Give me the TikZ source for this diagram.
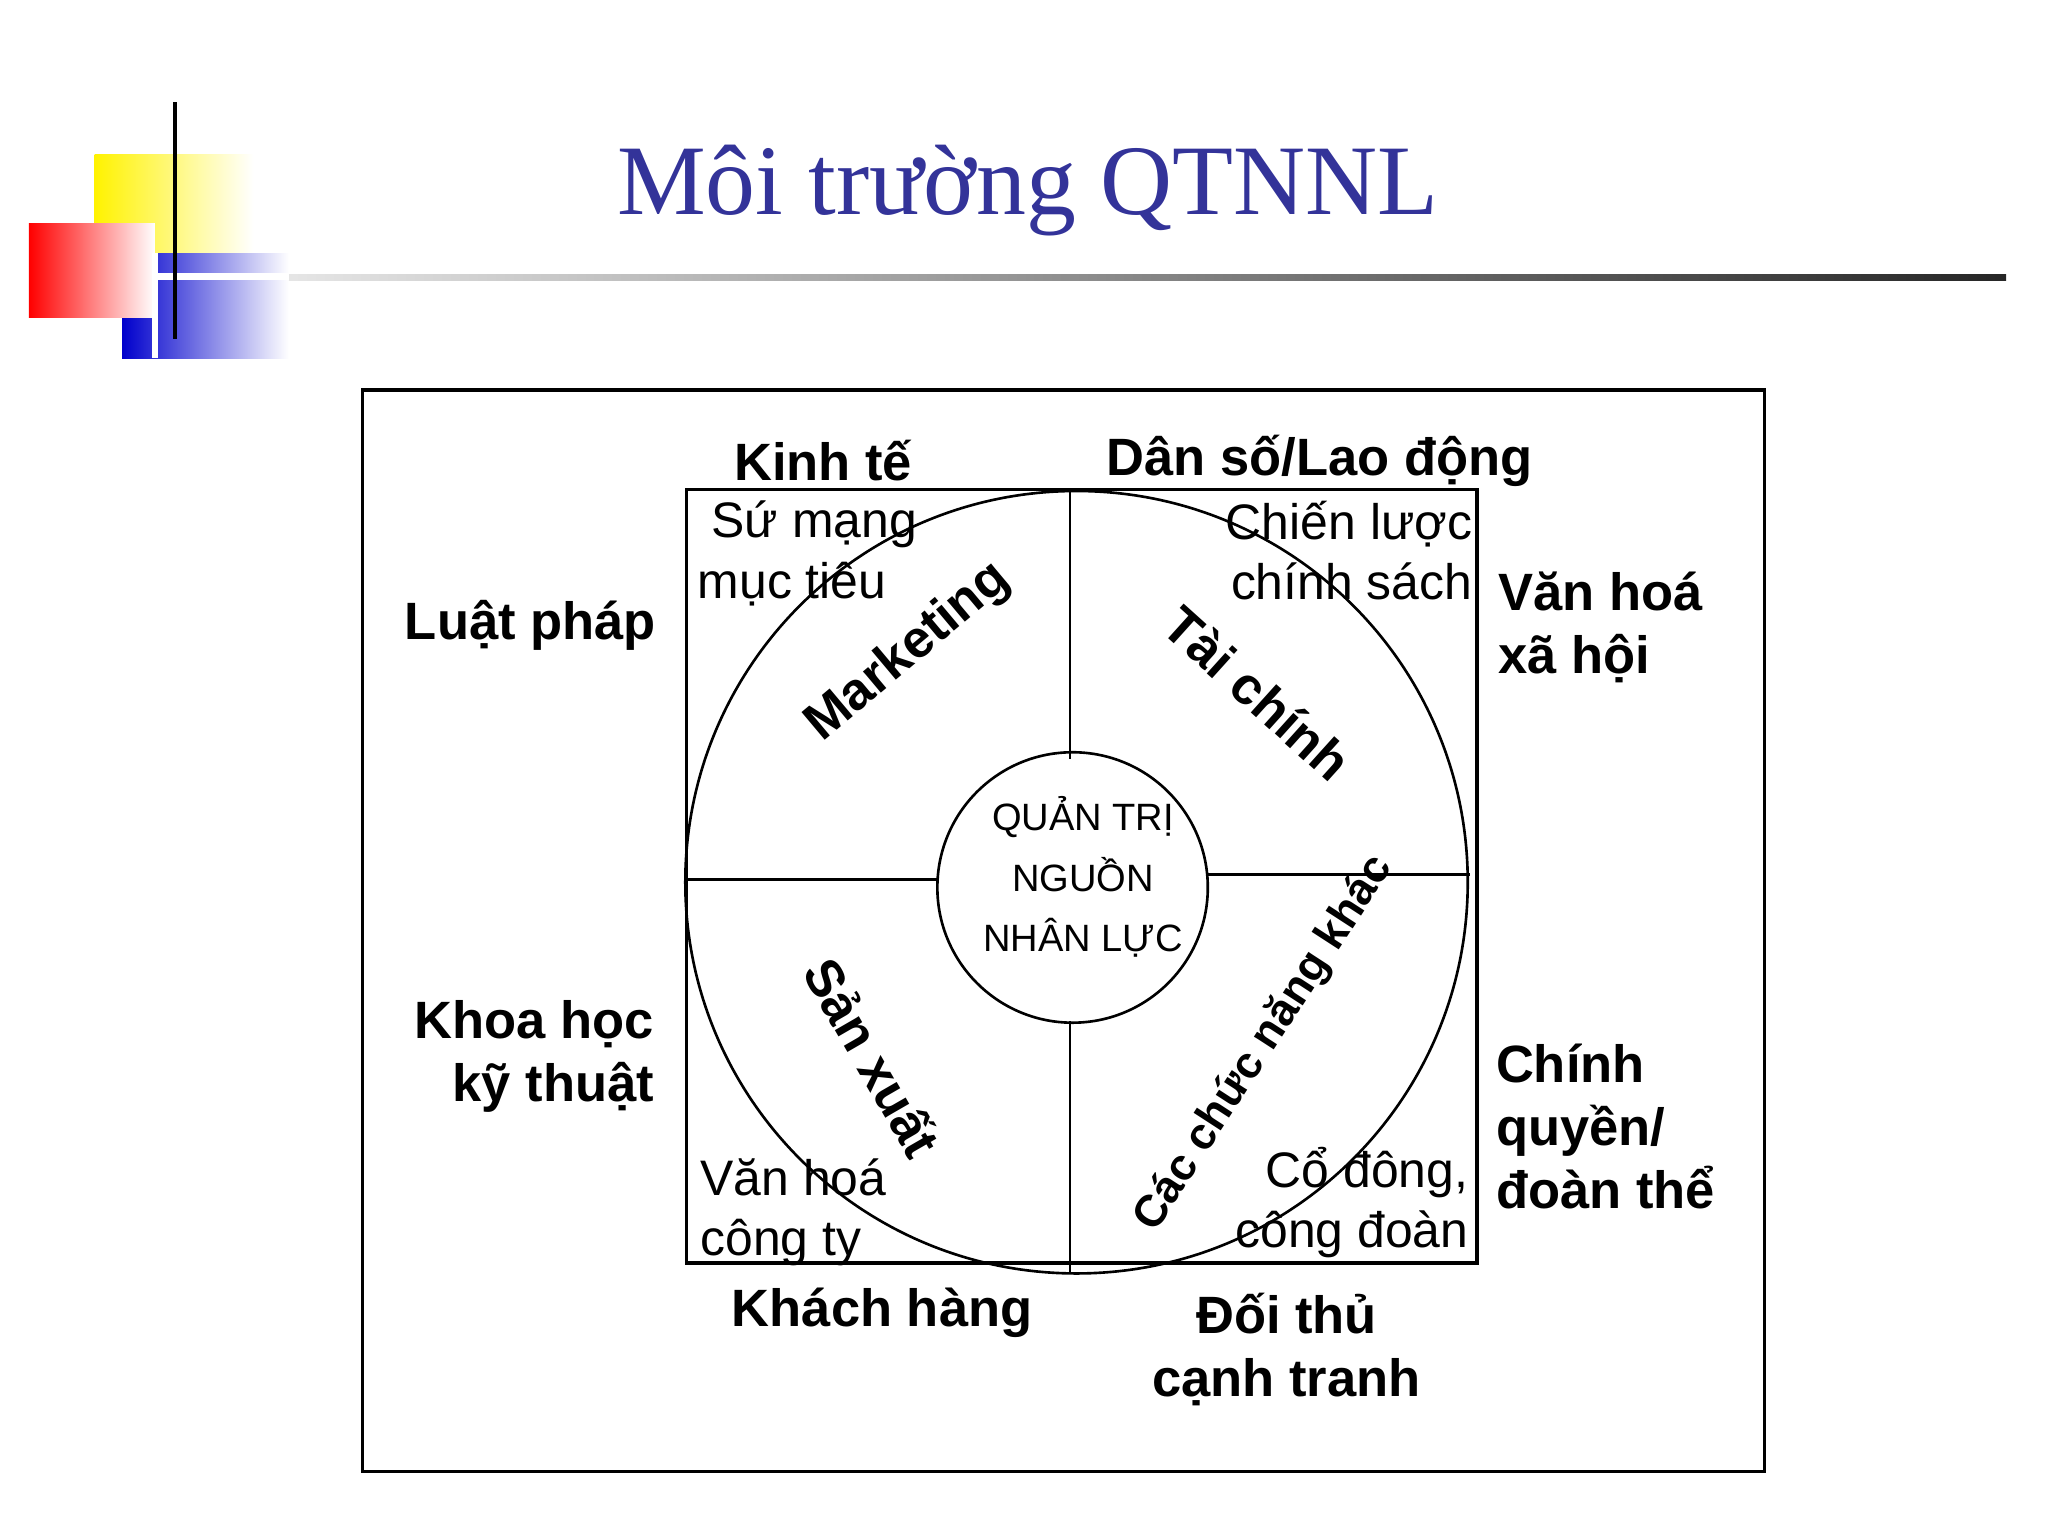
\documentclass[tikz,border=0pt]{standalone}
\usepackage{fontspec}
\setmainfont{Liberation Sans}
\newfontfamily\titlefont{Liberation Serif}
\definecolor{titleblue}{RGB}{51,51,153}
\begin{document}
\begin{tikzpicture}[x=1pt,y=-1pt,
  outer/.style={font=\fontsize{40}{48}\selectfont\bfseries,align=left},
  inner/.style={font=\fontsize{38}{46}\selectfont,align=left},
  rot/.style={font=\fontsize{40}{48}\selectfont\bfseries},
  ctr/.style={font=\fontsize{29}{46}\selectfont,align=center}]
\useasboundingbox (0,0) rectangle (1560,1170);
% decoration
\shade[left color=yellow!90!orange,right color=white] (72,118) rectangle (193,193);
\shade[left color=blue!80!black,right color=white] (93,193) rectangle (220,273);
\shade[left color=red,right color=white] (22,170) rectangle (118,242);
\shade[left color=gray!20,right color=black!85] (220,209) rectangle (1528,214);
\fill[white] (118,208) rectangle (220,213);
\fill[white] (116,193) rectangle (120,273);
\draw[line width=3pt] (133,78) -- (133,258);
\node[font=\titlefont\fontsize{76}{80}\selectfont,text=titleblue] (title) at (783,145) {Môi trường QTNNL};
% frames
\draw[line width=2.5pt] (276,297) rectangle (1344,1121);
\draw[line width=2.5pt] (523,373) rectangle (1125,962);
\node[circle,draw,line width=2pt,minimum size=596pt,inner sep=0pt] (big) at (820,672) {};
\node[circle,draw,line width=2pt,minimum size=206pt,inner sep=0pt] (small) at (817,676) {};
\coordinate (t) at (815,375); \coordinate (b) at (815,970);
\coordinate (l) at (523,670); \coordinate (r) at (1120,666);
\draw[line width=2pt] (t) -- (815,578);
\draw[line width=2pt] (815,778) -- (b);
\draw[line width=2pt] (l) -- (714,670);
\draw[line width=2pt] (920,666) -- (r);
% center
\node[ctr] (c) at (825,668) {QUẢN TRỊ\\NGUỒN\\NHÂN LỰC};
% outer labels
\node[outer] (kt) at (627,351) {Kinh tế};
\node[outer] (ds) at (1005,351) {Dân số/Lao động};
\node[outer] (lp) at (404,476) {Luật pháp};
\node[outer,anchor=west] (vh) at (1138,478) {Văn hoá\\xã hội};
\node[outer,align=right] (kh) at (407,805) {Khoa học\\kỹ thuật};
\node[outer,anchor=west] (cq) at (1136,858) {Chính\\quyền/\\đoàn thể};
\node[outer] (khh) at (672,1000) {Khách hàng};
\node[outer,align=center] (dt) at (980,1028) {Đối thủ\\cạnh tranh};
% inner labels
\node[inner,anchor=north west] (sm) at (528,378) {\ Sứ mạng\\mục tiêu};
\node[inner,anchor=north east,align=right] (cl) at (1125,378) {Chiến lược\\chính sách};
\node[inner,anchor=south west] (vhc) at (530,968) {Văn hoá\\công ty};
\node[inner,anchor=south east,align=right] (cd) at (1122,962) {Cổ đông,\\công đoàn};
% rotated
\node[rot,rotate=40] (mk) at (692,497) {Marketing};
\node[rot,rotate=-42] (tc) at (958,528) {Tài chính};
\node[rot,rotate=-60] (sx) at (665,805) {Sản xuất};
\node[rot,rotate=57,font=\fontsize{34}{40}\selectfont\bfseries] (cn) at (963,795) {Các chức năng khác};
\end{tikzpicture}
\end{document}
